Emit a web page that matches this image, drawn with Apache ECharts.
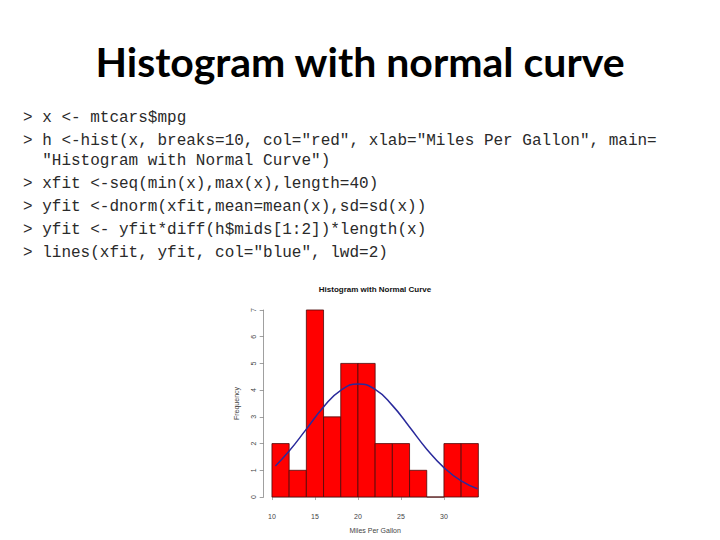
<!DOCTYPE html>
<html>
<head>
<meta charset="utf-8">
<script src="https://cdn.jsdelivr.net/npm/echarts@6/dist/echarts.min.js"></script>
<style>
html,body{margin:0;padding:0;background:#fff;}
#c{width:720px;height:540px;}
</style>
</head>
<body>
<div id="c"></div>
<script>
// ---- data ----
const slideTitle = 'Histogram with normal curve';
const codeLines = [
  '> x <- mtcars$mpg',
  '> h <-hist(x, breaks=10, col="red", xlab="Miles Per Gallon", main=',
  '  "Histogram with Normal Curve")',
  '> xfit <-seq(min(x),max(x),length=40)',
  '> yfit <-dnorm(xfit,mean=mean(x),sd=sd(x))',
  '> yfit <- yfit*diff(h$mids[1:2])*length(x)',
  '> lines(xfit, yfit, col="blue", lwd=2)'
];
const chartTitle = 'Histogram with Normal Curve';
const xLabel = 'Miles Per Gallon';
const yLabel = 'Frequency';
const breaks = [10, 12, 14, 16, 18, 20, 22, 24, 26, 28, 30, 32, 34];
const counts = [2, 1, 7, 3, 5, 5, 2, 2, 1, 0, 2, 2];
const curveX = [10.4, 12, 14, 16, 18, 20, 22, 24, 26, 28, 30, 32, 33.9];
const curveY = [1.16, 1.72, 2.54, 3.37, 3.99, 4.23, 4.03, 3.43, 2.62, 1.79, 1.10, 0.60, 0.31];

// ---- build ----
const histData = counts.map((c, i) => [breaks[i], breaks[i + 1], c]);
const curveData = curveX.map((x, i) => [x, curveY[i]]);
const codeTops = [118, 141, 161, 184, 207, 230, 253];

const chart = echarts.init(document.getElementById('c'), null, {renderer: 'svg'});
const smallFont = {fontFamily: 'Liberation Sans', fontSize: 7, color: '#444'};

const graphics = [
  {type: 'text', x: 360, y: 61, style: {text: slideTitle, font: 'bold 41px Lato', fill: '#000', textAlign: 'center', textVerticalAlign: 'middle'}},
  {type: 'text', x: 375, y: 289, style: {text: chartTitle, font: 'bold 8px "Liberation Sans"', fill: '#111', textAlign: 'center', textVerticalAlign: 'middle'}}
];
codeLines.forEach((t, i) => {
  graphics.push({type: 'text', x: 23, y: codeTops[i], style: {text: t, font: '16px "Liberation Mono"', fill: '#2a2a2a', textAlign: 'left', textVerticalAlign: 'middle'}});
});

chart.setOption({
  animation: false,
  backgroundColor: '#fff',
  graphic: graphics,
  grid: [
    {left: 263.7, top: 302.5, width: 222.9, height: 202},
    {left: 263.7, top: 310, width: 222.9, height: 187},
    {left: 272, top: 302.5, width: 172, height: 202}
  ],
  xAxis: [
    {gridIndex: 0, type: 'value', min: 9.04, max: 34.96, axisLine: {show: false}, axisTick: {show: false}, axisLabel: {show: false}, splitLine: {show: false},
     name: xLabel, nameLocation: 'middle', nameGap: 22, nameTextStyle: {fontFamily: 'Liberation Sans', fontSize: 7, color: '#444'}},
    {gridIndex: 1, type: 'value', min: 0, max: 1, show: false},
    {gridIndex: 2, type: 'value', min: 10, max: 30, interval: 5, splitLine: {show: false},
     axisLine: {lineStyle: {color: '#ccc', width: 0.8}}, axisTick: {length: 3, lineStyle: {color: '#999', width: 0.8}},
     axisLabel: Object.assign({margin: 8}, smallFont)}
  ],
  yAxis: [
    {gridIndex: 0, type: 'value', min: -0.28, max: 7.28, axisLine: {show: false}, axisTick: {show: false}, axisLabel: {show: false}, splitLine: {show: false},
     name: yLabel, nameLocation: 'middle', nameGap: 24, nameRotate: 90, nameTextStyle: {fontFamily: 'Liberation Sans', fontSize: 7, color: '#444'}},
    {gridIndex: 1, type: 'value', min: 0, max: 7, interval: 1, splitLine: {show: false},
     axisLine: {show: true, lineStyle: {color: '#888', width: 0.8}}, axisTick: {show: true, length: 4, lineStyle: {color: '#888', width: 0.8}},
     axisLabel: Object.assign({margin: 7, rotate: 90}, smallFont)},
    {gridIndex: 2, type: 'value', min: -0.28, max: 7.28, show: false}
  ],
  series: [
    {
      type: 'custom', xAxisIndex: 0, yAxisIndex: 0, data: histData,
      renderItem: function (params, api) {
        const p0 = api.coord([api.value(0), api.value(2)]);
        const p1 = api.coord([api.value(1), 0]);
        return {type: 'rect', shape: {x: p0[0], y: p0[1], width: p1[0] - p0[0], height: p1[1] - p0[1]},
                style: {fill: '#ff0000', stroke: '#4a0a0a', lineWidth: 0.8}};
      },
      encode: {x: [0, 1], y: 2}
    },
    {
      type: 'line', xAxisIndex: 0, yAxisIndex: 0, data: curveData, smooth: true, showSymbol: false,
      lineStyle: {color: '#2a2a9c', width: 1.5}
    }
  ]
});
</script>
</body>
</html>
